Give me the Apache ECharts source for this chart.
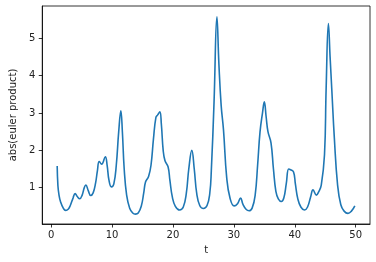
<!DOCTYPE html>
<html>
<head>
<meta charset="utf-8">
<script src="https://cdn.jsdelivr.net/npm/echarts@6/dist/echarts.min.js"></script>
<style>html,body{margin:0;padding:0;background:#fff}#c{width:376px;height:262px}</style>
</head>
<body>
<div id="c"></div>
<script>
const tValues = [1.0,1.12,1.3,1.55,2.0,2.4,2.8,3.15,3.6,3.95,4.3,4.7,5.1,5.45,5.7,6.1,6.5,6.9,7.3,7.6,7.9,8.3,8.9,9.2,9.5,9.9,10.3,10.7,11.1,11.45,11.7,12.0,12.4,12.9,13.4,13.85,14.3,14.8,15.2,15.5,16.0,16.4,16.8,17.2,17.5,17.85,18.1,18.4,18.7,19.2,19.5,19.9,20.4,21.1,21.7,22.2,22.6,23.1,23.5,23.9,24.4,25.0,25.6,26.05,26.3,26.75,27.22,27.55,27.92,28.3,28.83,29.37,30.05,30.6,31.1,31.5,32.0,32.5,33.0,33.5,33.9,34.3,34.7,35.0,35.3,35.6,36.1,36.5,36.9,37.3,37.8,38.2,38.6,39.0,39.3,39.8,40.1,40.5,41.0,41.6,42.1,42.6,43.0,43.55,43.9,44.35,44.88,45.15,45.52,45.8,46.07,46.5,47.03,47.56,48.1,48.73,49.3,49.86];
const absValues = [1.58,1.05,0.8,0.62,0.45,0.39,0.42,0.52,0.72,0.84,0.76,0.70,0.80,1.0,1.07,0.92,0.79,0.86,1.12,1.45,1.70,1.63,1.83,1.6,1.2,1.02,1.1,1.6,2.5,3.06,2.5,1.5,0.8,0.45,0.32,0.29,0.32,0.5,0.85,1.15,1.3,1.6,2.3,2.88,2.95,3.03,2.7,2.0,1.72,1.56,1.2,0.75,0.5,0.40,0.48,0.85,1.5,2.0,1.5,0.85,0.52,0.44,0.52,0.85,1.45,3.3,5.58,4.3,3.2,2.55,1.26,0.72,0.51,0.57,0.72,0.55,0.42,0.38,0.45,0.8,1.6,2.5,3.0,3.3,2.9,2.5,2.2,1.5,0.9,0.7,0.63,0.72,1.1,1.5,1.48,1.42,1.1,0.7,0.48,0.40,0.48,0.75,0.94,0.80,0.88,1.07,1.88,3.66,5.40,4.5,3.66,2.32,1.07,0.54,0.37,0.31,0.37,0.51];
const xTicks = [0,10,20,30,40,50];
const yTicks = [1,2,3,4,5];
const xName = 't';
const yName = 'abs(euler product)';

const chart = echarts.init(document.getElementById('c'), null, {renderer:'canvas'});
const font = 'DejaVu Sans';
const axisCommon = {
  axisLine:{show:true,onZero:false,lineStyle:{color:'#000',width:0.8}},
  axisTick:{show:true,inside:false,length:3.5,lineStyle:{color:'#000',width:0.8}},
  splitLine:{show:false},
};
chart.setOption({
  animation:false,
  grid:{left:35,right:6,top:6,bottom:38,show:true,borderColor:'#000',borderWidth:0.8,backgroundColor:'transparent'},
  xAxis:Object.assign({type:'value',min:-1.45,max:52.35,
    name:xName,nameLocation:'middle',nameGap:21,
    nameTextStyle:{fontFamily:font,fontSize:10,color:'#222'},
    axisLabel:{customValues:xTicks,fontFamily:font,fontSize:10,color:'#222',margin:6},
  },axisCommon,{axisTick:Object.assign({},axisCommon.axisTick,{customValues:xTicks})}),
  yAxis:Object.assign({type:'value',min:0.025,max:5.87,
    name:yName,nameLocation:'middle',nameGap:22,nameRotate:90,
    nameTextStyle:{fontFamily:font,fontSize:10,color:'#222'},
    axisLabel:{customValues:yTicks,fontFamily:font,fontSize:10,color:'#222',margin:7},
  },axisCommon,{axisTick:Object.assign({},axisCommon.axisTick,{customValues:yTicks})}),
  series:[{type:'line',data:tValues.map((t,i)=>[t,absValues[i]]),showSymbol:false,
    smooth:0.45,
    lineStyle:{color:'#1f77b4',width:1.6}}]
});
</script>
</body>
</html>
